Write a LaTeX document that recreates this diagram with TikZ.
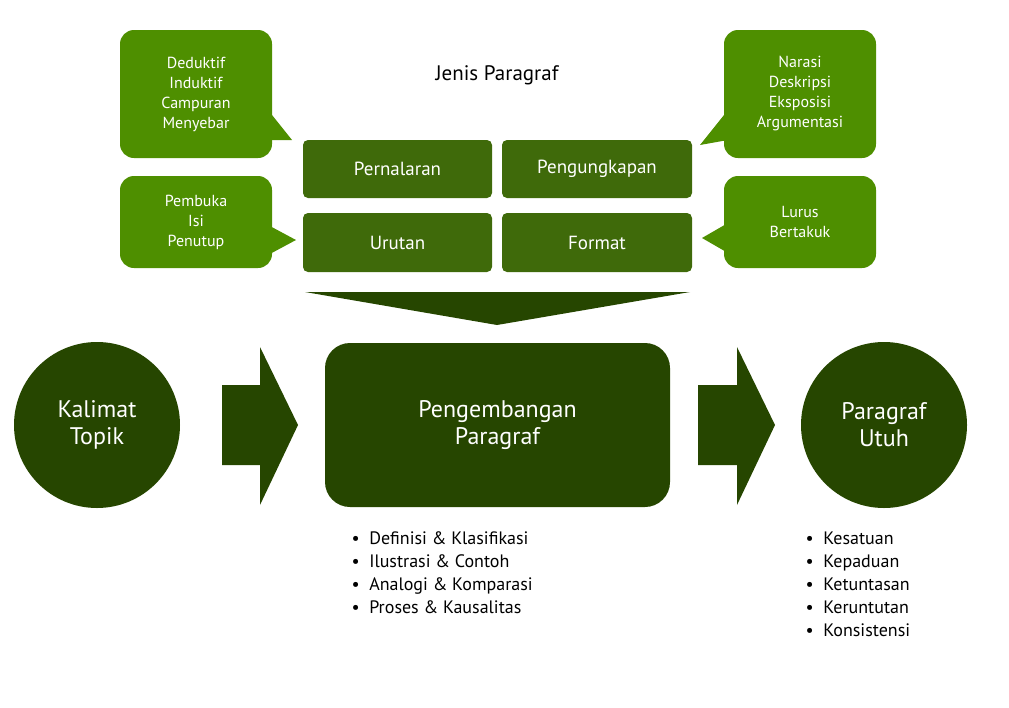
\documentclass[tikz,border=0pt]{standalone}
\usepackage{fontspec}
\setmainfont{PT Sans}
\begin{document}
\begin{tikzpicture}[x=1pt,y=-1pt,
 call/.style={fill=calc,draw=none},
 box/.style={fill=boxc,rounded corners=5pt,text=white,font=\fontsize{19}{22}\selectfont},
 ctext/.style={text=white,align=center,font=\fontsize{16}{20}\selectfont},
 big/.style={text=white,align=center,font=\fontsize{24}{27}\selectfont},
 lst/.style={anchor=north west,align=left,font=\fontsize{18}{23}\selectfont}]
\definecolor{calc}{HTML}{4E8F00}
\definecolor{boxc}{HTML}{3F6A0A}
\definecolor{dark}{HTML}{264600}
\useasboundingbox (0,0) rectangle (1009,707);
% callouts
\fill[calc,rounded corners=14pt] (120,30) rectangle (272,158);
\fill[calc] (268,110) -- (292,140) -- (268,140) -- cycle;
\node[ctext] (c1) at (196,94) {Deduktif\\Induktif\\Campuran\\Menyebar};
\fill[calc,rounded corners=14pt] (120,176) rectangle (272,268);
\fill[calc] (268,225) -- (296,240) -- (268,255) -- cycle;
\node[ctext] (c2) at (196,222) {Pembuka\\Isi\\Penutup};
\fill[calc,rounded corners=14pt] (724,30) rectangle (876,158);
\fill[calc] (728,110) -- (700,145) -- (728,140) -- cycle;
\node[ctext] (c3) at (800,94) {Narasi\\Deskripsi\\Eksposisi\\Argumentasi};
\fill[calc,rounded corners=14pt] (724,176) rectangle (876,268);
\fill[calc] (728,223) -- (702,238) -- (728,253) -- cycle;
\node[ctext] (c4) at (800,222) {Lurus\\Bertakuk};
\node[font=\fontsize{21}{24}\selectfont] (t) at (497,75) {Jenis Paragraf};
% boxes
\node[box,minimum width=189pt,minimum height=58pt] (b1) at (397.5,169) {Pernalaran};
\node[box,minimum width=190pt,minimum height=58pt] (b2) at (597,169) {Pengungkapan};
\node[box,minimum width=189pt,minimum height=59pt] (b3) at (397.5,242.5) {Urutan};
\node[box,minimum width=190pt,minimum height=59pt] (b4) at (597,242.5) {Format};
\fill[dark] (305,292) -- (690,292) -- (497,325) -- cycle;
% main row
\node[circle,fill=dark,minimum size=166pt,big] (k) at (97,425) {Kalimat\\Topik};
\fill[dark] (222,385) -- (260,385) -- (260,347) -- (298,425) -- (260,505) -- (260,465) -- (222,465) -- cycle;
\node[fill=dark,rounded corners=25pt,minimum width=345pt,minimum height=164pt,big] (p) at (497.5,425) {Pengembangan\\Paragraf};
\fill[dark] (698,385) -- (737,385) -- (737,347) -- (775,425) -- (737,505) -- (737,465) -- (698,465) -- cycle;
\node[circle,fill=dark,minimum size=166pt,big] (u) at (884,425) {Paragraf\\Utuh};
% lists
\node[lst] (l1) at (348,528) {•\ \ Definisi \& Klasifikasi\\•\ \ Ilustrasi \& Contoh\\•\ \ Analogi \& Komparasi\\•\ \ Proses \& Kausalitas};
\node[lst] (l2) at (802,528) {•\ \ Kesatuan\\•\ \ Kepaduan\\•\ \ Ketuntasan\\•\ \ Keruntutan\\•\ \ Konsistensi};
\end{tikzpicture}
\end{document}
